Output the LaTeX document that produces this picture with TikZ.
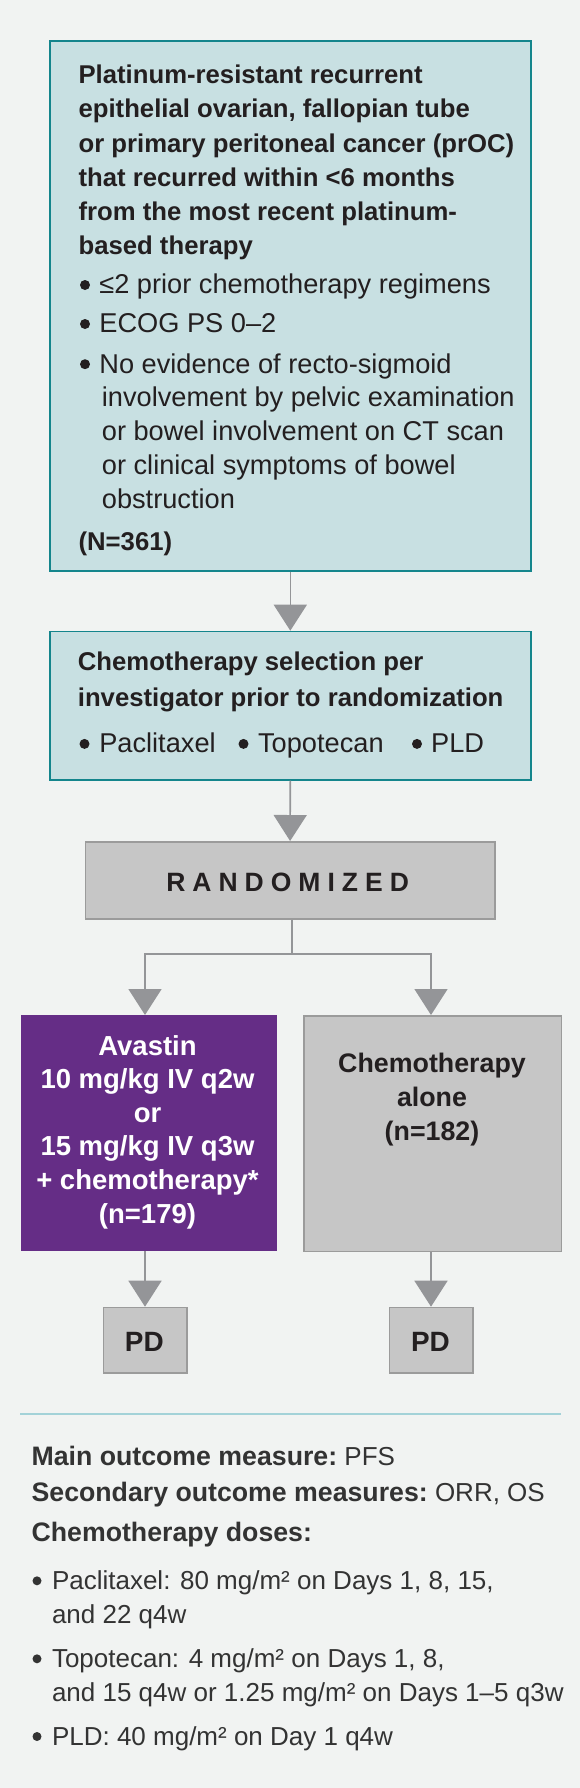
\documentclass[tikz,border=0pt]{standalone}
\usepackage{fontspec}
\setmainfont{Liberation Sans}
\usetikzlibrary{arrows.meta}
\definecolor{bg}{HTML}{F1F3F2}
\definecolor{tealfill}{HTML}{C8E0E2}
\definecolor{tealline}{HTML}{14858C}
\definecolor{purp}{HTML}{652D86}
\definecolor{grayfill}{HTML}{C6C6C6}
\definecolor{grayline}{HTML}{9B9B9B}
\definecolor{arrowgray}{HTML}{949598}
\definecolor{sepcol}{HTML}{A3D2D8}
\definecolor{ink}{HTML}{231F20}
\definecolor{ink2}{HTML}{333333}
\newcommand\fTB{\fontsize{25.7pt}{30pt}\selectfont\bfseries}
\newcommand\fTR{\fontsize{27.2pt}{30pt}\selectfont\mdseries}
\newcommand\fPB{\fontsize{27.5pt}{30pt}\selectfont\bfseries}
\newcommand\fGB{\fontsize{26.8pt}{30pt}\selectfont\bfseries}
\newcommand\fRB{\fontsize{26.5pt}{30pt}\selectfont\bfseries}
\newcommand\fPD{\fontsize{27.9pt}{30pt}\selectfont\bfseries}
\newcommand\fBB{\fontsize{26.7pt}{30pt}\selectfont\bfseries}
\newcommand\fBR{\fontsize{26pt}{30pt}\selectfont\mdseries}
\begin{document}
\begin{tikzpicture}[x=1pt,y=-1pt,
  tealbox/.style={draw=tealline,fill=tealfill,line width=1.6pt,inner sep=0pt,anchor=north west},
  purpbox/.style={fill=purp,inner sep=0pt,anchor=north west},
  graybox/.style={draw=grayline,fill=grayfill,line width=1.6pt,inner sep=0pt,anchor=north west},
  txt/.style={anchor=base west,inner sep=0pt,text=ink},
  ctxt/.style={anchor=base,inner sep=0pt,text=ink},
  btxt/.style={anchor=base west,inner sep=0pt,text=ink2},
  dotb/.style={circle,fill=ink,inner sep=0pt,minimum size=10pt},
  dotf/.style={circle,fill=ink2,inner sep=0pt,minimum size=9pt},
  conn/.style={draw=arrowgray,line width=1.6pt},
  arr/.style={conn,-{Triangle[width=33pt,length=26pt]}}]
\fill[bg] (0,0) rectangle (580,1788);
\useasboundingbox (0,0) rectangle (580,1788);

% ---------- eligibility box ----------
\node[tealbox,minimum width=481pt,minimum height=529.8pt] (elig) at (49,40.2) {};
\node[txt,font=\fTB] (e1) at (78.4,83.4) {Platinum-resistant recurrent};
\node[txt,font=\fTB] (e2) at (78.4,117.7) {epithelial ovarian, fallopian tube};
\node[txt,font=\fTB] (e3) at (78.4,152.0) {or primary peritoneal cancer (prOC)};
\node[txt,font=\fTB] (e4) at (78.4,186.3) {that recurred within <6 months};
\node[txt,font=\fTB] (e5) at (78.4,220.6) {from the most recent platinum-};
\node[txt,font=\fTB] (e6) at (78.4,254.9) {based therapy};
\node[dotb] (eb1) at (85,285.0) {};
\node[txt,font=\fTR] (e7) at (99.2,293.8) {≤2 prior chemotherapy regimens};
\node[dotb] (eb2) at (85,324.0) {};
\node[txt,font=\fTR] (e8) at (99.2,332.8) {ECOG PS 0–2};
\node[dotb] (eb3) at (85,364.2) {};
\node[txt,font=\fTR] (e9) at (99.2,373.0) {No evidence of recto-sigmoid};
\node[txt,font=\fTR] (e10) at (101.7,406.8) {involvement by pelvic examination};
\node[txt,font=\fTR] (e11) at (101.7,440.7) {or bowel involvement on CT scan};
\node[txt,font=\fTR] (e12) at (101.7,474.6) {or clinical symptoms of bowel};
\node[txt,font=\fTR] (e13) at (101.7,508.5) {obstruction};
\node[txt,font=\fTB] (e14) at (78.4,550.9) {(N=361)};

% ---------- selection box ----------
\node[tealbox,minimum width=481pt,minimum height=148.3pt] (sel) at (49,630.7) {};
\node[txt,font=\fTB] (s1) at (77.7,670.0) {Chemotherapy selection per};
\node[txt,font=\fTB] (s2) at (77.7,706.7) {investigator prior to randomization};
\node[dotb] (sb1) at (84.5,743.9) {};
\node[txt,font=\fTR] (s3) at (99.1,752.7) {Paclitaxel};
\node[dotb] (sb2) at (243.5,743.9) {};
\node[txt,font=\fTR] (s4) at (257.9,752.7) {Topotecan};
\node[dotb] (sb3) at (417,743.9) {};
\node[txt,font=\fTR] (s5) at (431,752.7) {PLD};

% ---------- randomized ----------
\node[graybox,minimum width=409.2pt,minimum height=77.3pt] (rand) at (84.7,841) {};
\node[ctxt,font=\fRB] (randtxt) at (287.6,891.7) {R\kern7pt A\kern7pt N\kern7pt D\kern7pt O\kern7pt M\kern7pt I\kern7pt Z\kern7pt E\kern7pt D};

% ---------- arms ----------
\node[purpbox,minimum width=256.1pt,minimum height=235.7pt] (avastin) at (20.3,1015) {};
\node[ctxt,font=\fPB,text=white] (a1) at (147.5,1055.0) {Avastin};
\node[ctxt,font=\fPB,text=white] (a2) at (147.5,1088.6) {10 mg/kg IV q2w};
\node[ctxt,font=\fPB,text=white] (a3) at (147.5,1122.2) {or};
\node[ctxt,font=\fPB,text=white] (a4) at (147.5,1155.8) {15 mg/kg IV q3w};
\node[ctxt,font=\fPB,text=white] (a5) at (147.5,1189.4) {+ chemotherapy*};
\node[ctxt,font=\fPB,text=white] (a6) at (147.5,1223.0) {(n=179)};

\node[graybox,minimum width=257.1pt,minimum height=235.7pt] (chemo) at (303.4,1015) {};
\node[ctxt,font=\fGB] (c1) at (432,1072.7) {Chemotherapy};
\node[ctxt,font=\fGB] (c2) at (432,1106.3) {alone};
\node[ctxt,font=\fGB] (c3) at (432,1140.0) {(n=182)};

% ---------- PD ----------
\node[graybox,minimum width=83.6pt,minimum height=65.6pt] (pdL) at (102.5,1306.7) {};
\node[ctxt,font=\fPD] (pdLt) at (144.3,1351.7) {PD};
\node[graybox,minimum width=83.9pt,minimum height=65.6pt] (pdR) at (388.5,1306.7) {};
\node[ctxt,font=\fPD] (pdRt) at (430.5,1351.7) {PD};

% ---------- connectors ----------
\draw[arr] (elig.south) -- (sel.north);
\draw[arr] (sel.south) -- (rand.north);
\coordinate (split) at (292,954);
\coordinate (armL) at (145,1015);
\coordinate (armR) at (431,1015);
\draw[conn] (rand.south -| split) -- (split);
\draw[arr] (split) -| (armL);
\draw[arr] (split) -| (armR);
\draw[arr] (armL |- avastin.south) -- (armL |- pdL.north);
\draw[arr] (armR |- chemo.south) -- (armR |- pdR.north);

% ---------- separator ----------
\coordinate (sepA) at (20.3,1414);
\coordinate (sepB) at (560.5,1414);
\draw[draw=sepcol,line width=1.6pt] (sepA) -- (sepB);

% ---------- footnote block ----------
\node[btxt] (f1) at (31.4,1465.0) {\fBB Main outcome measure:\fBR\ PFS};
\node[btxt] (f2) at (31.4,1501.7) {\fBB Secondary outcome measures:\fBR\ ORR, OS};
\node[btxt,font=\fBB] (f3) at (31.4,1541.5) {Chemotherapy doses:};
\node[dotf] (fb1) at (37,1580.8) {};
\node[btxt,font=\fBR] (f4) at (51.8,1589.3) {Paclitaxel: 80 mg/m² on Days 1, 8, 15,};
\node[btxt,font=\fBR] (f5) at (51.8,1623.3) {and 22 q4w};
\node[dotf] (fb2) at (37,1658.8) {};
\node[btxt,font=\fBR] (f6) at (51.8,1667.3) {Topotecan: 4 mg/m² on Days 1, 8,};
\node[btxt,font=\fBR] (f7) at (51.8,1701.7) {and 15 q4w or 1.25 mg/m² on Days 1–5 q3w};
\node[dotf] (fb3) at (37,1736.5) {};
\node[btxt,font=\fBR] (f8) at (51.8,1745.0) {PLD: 40 mg/m² on Day 1 q4w};
\end{tikzpicture}
\end{document}
